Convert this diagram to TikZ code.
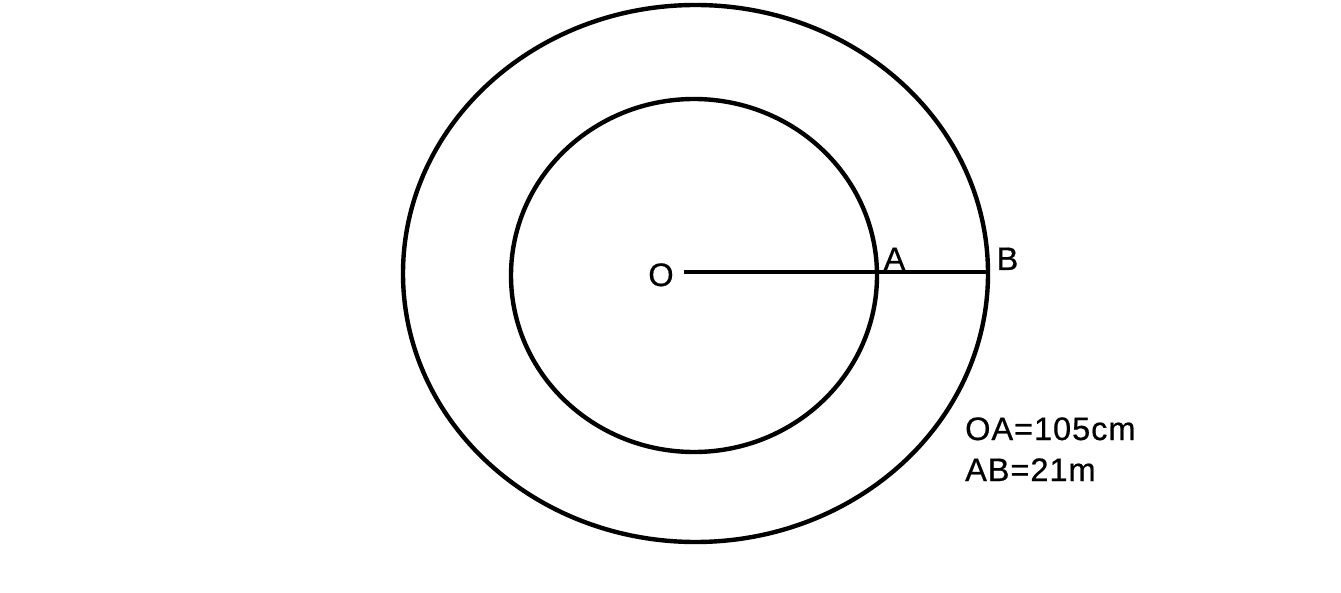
\documentclass[tikz,border=0pt]{standalone}
\usepackage{fontspec}
\setmainfont{Liberation Sans}[LetterSpace=3,FakeBold=0.6]
\begin{document}
\begin{tikzpicture}[x=1pt,y=-1pt,
  ring/.style={draw=black,line width=4.4pt},
  seg/.style={draw=black,line width=4.4pt},
  lbl/.style={inner sep=0pt,font=\fontsize{32.5}{38}\selectfont},
]
\useasboundingbox[fill=white] (0,0) rectangle (1341,593);
\draw[ring] (695.5,273.5) ellipse [x radius=292.5pt, y radius=268.5pt];
\draw[ring] (694,275.5) ellipse [x radius=183pt, y radius=176.5pt];
\node[lbl,anchor=base] (O) at (661,286) {O};
\node[lbl,anchor=base] (A) at (894.5,270) {A};
\node[lbl,anchor=base] (B) at (1007.5,270) {B};
\coordinate (start) at (684,272);
\coordinate (end) at (988,272);
\draw[seg] (start) -- (end);
\node[lbl,anchor=base west] (oa) at (965,440) {OA=105cm};
\node[lbl,anchor=base west] (ab) at (965,481) {AB=21m};
\end{tikzpicture}
\end{document}
